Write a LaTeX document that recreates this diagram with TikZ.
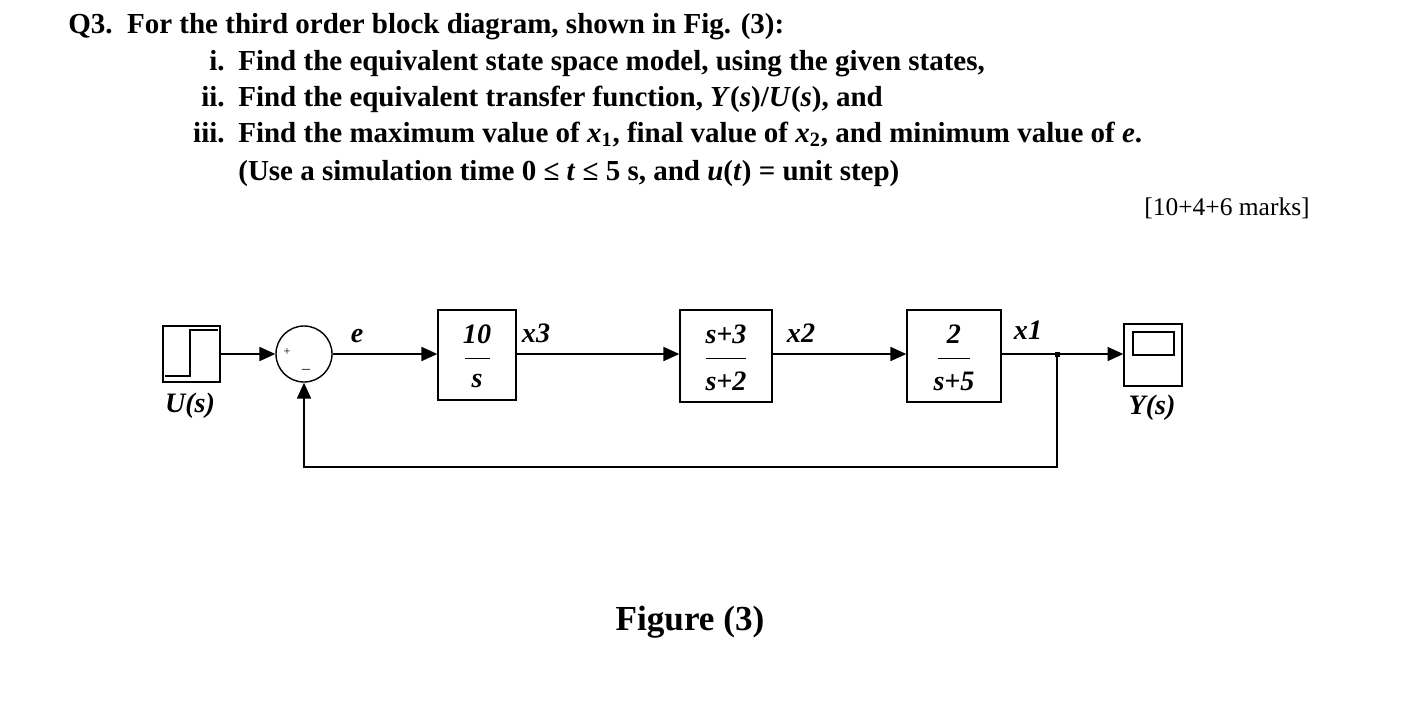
\documentclass[tikz,border=0pt]{standalone}
\usepackage{fontspec}
\setmainfont{Liberation Serif}
\usetikzlibrary{arrows.meta}
\begin{document}
\begin{tikzpicture}[x=0.02cm,y=-0.02cm,
  blk/.style={draw,line width=0.8pt,minimum width=#1},
  lbl/.style={font=\fontsize{16}{18}\selectfont\bfseries\itshape},
  ttl/.style={anchor=base west,font=\fontsize{16.5}{19}\selectfont\bfseries,inner sep=0},
  arr/.style={-{Triangle[length=9pt,width=8pt]},line width=0.8pt},
  ln/.style={line width=0.8pt}]
\useasboundingbox (0,0) rectangle (1402,700);
% title
\node[ttl] (q) at (68,33) {Q3.\ \ For the third order block diagram, shown in Fig. (3):};
\node[ttl,anchor=base east] (n1) at (225,70) {i.};
\node[ttl] (t1) at (238,70) {Find the equivalent state space model, using the given states,};
\node[ttl,anchor=base east] (n2) at (225,106) {ii.};
\node[ttl] (t2) at (238,106) {Find the equivalent transfer function, \textit{Y}(\textit{s})/\textit{U}(\textit{s}), and};
\node[ttl,anchor=base east] (n3) at (225,142) {iii.};
\node[ttl] (t3) at (238,142) {Find the maximum value of \textit{x}\textsubscript{\normalfont\bfseries 1}, final value of \textit{x}\textsubscript{2}, and minimum value of \textit{e}.};
\node[ttl] (t4) at (238,180) {(Use a simulation time 0 ≤ \textit{t} ≤ 5 s, and \textit{u}(\textit{t}) = unit step)};
\node[anchor=base east,font=\fontsize{14.5}{17}\selectfont,inner sep=0] (mk) at (1310,215) {[10+4+6 marks]};
% step source
\node[blk=57*0.02cm,minimum height=56*0.02cm,inner sep=0] (src) at (191.5,354) {};
\draw[line width=0.7pt] (165,376) -- (190,376) -- (190,330) -- (218,330);
\node[lbl] (us) at (190,406) {U(s)};
% sum
\node[draw,circle,line width=0.8pt,minimum size=56*0.02cm,inner sep=0] (sum) at (304,354) {};
\node[font=\scriptsize,inner sep=0] (pl) at (287,352) {+};
\node[font=\small,inner sep=0] (mi) at (306,371) {--};
% blocks
\node[blk=78*0.02cm,minimum height=90*0.02cm] (b1) at (477,355) {};
\node[lbl] (b1n) at (477,334) {10};
\node[lbl] (b1d) at (477,381) {s};
\draw[line width=0.5pt] (465,358) -- (490,358);
\node[blk=92*0.02cm,minimum height=92*0.02cm] (b2) at (726,356) {};
\node[lbl] (b2n) at (726,334) {s+3};
\node[lbl] (b2d) at (726,381) {s+2};
\draw[line width=0.5pt] (706,358) -- (746,358);
\node[blk=94*0.02cm,minimum height=92*0.02cm] (b3) at (954,356) {};
\node[lbl] (b3n) at (954,334) {2};
\node[lbl] (b3d) at (954,381) {s+5};
\draw[line width=0.5pt] (938,358) -- (970,358);
% scope
\node[blk=58*0.02cm,minimum height=62*0.02cm] (sc) at (1153,355) {};
\draw[line width=0.8pt] (1133,332) rectangle (1174,355);
\node[lbl] (ys) at (1152,408) {Y(s)};
% labels
\node[lbl] (le) at (357,336) {e};
\node[lbl] (lx3) at (536,333) {x3};
\node[lbl] (lx2) at (801,333) {x2};
\node[lbl] (lx1) at (1028,330) {x1};
% connectors
\coordinate (br) at (1057,354);
\coordinate (bd) at (1057,467);
\coordinate (bl) at (304,467);
\draw[arr] (src.east) -- (sum.west);
\draw[arr] (sum.east) -- (b1.west|-sum.east);
\draw[arr] (b1.east|-sum.east) -- (b2.west|-sum.east);
\draw[arr] (b2.east|-sum.east) -- (b3.west|-sum.east);
\draw[arr] (b3.east|-sum.east) -- (sc.west|-sum.east);
\draw[arr] (br) -- (bd) -- (bl) -- (sum.south);
\fill (br) ++(-2,-2) rectangle ++(5,5);
\node[font=\fontsize{20}{24}\selectfont\bfseries] (fig) at (690,622) {Figure (3)};
\end{tikzpicture}
\end{document}
